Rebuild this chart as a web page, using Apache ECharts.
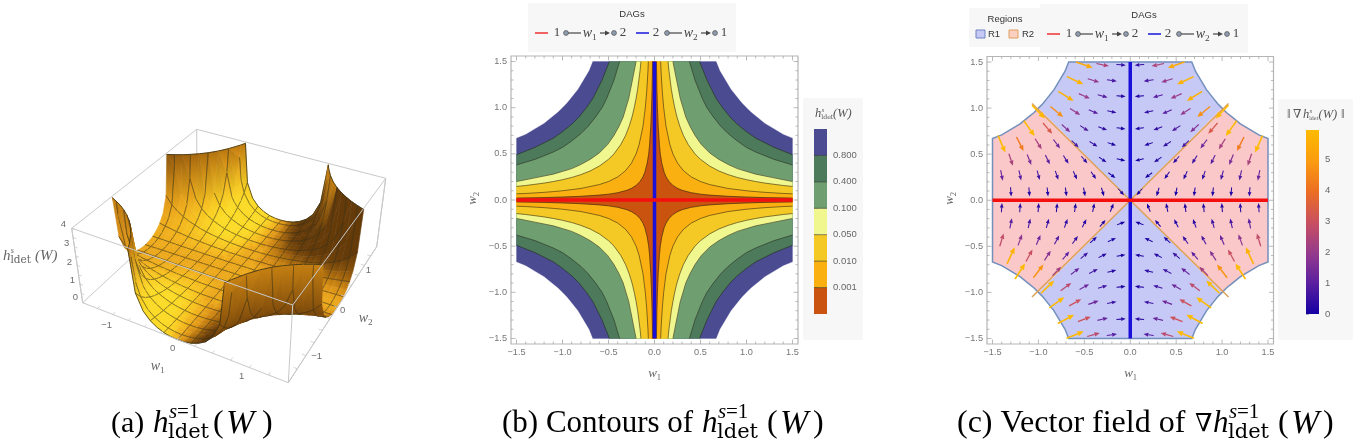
<!DOCTYPE html>
<html>
<head>
<meta charset="utf-8">
<style>
  html, body { margin: 0; background: #fff; }
  #chart { width: 1356px; height: 441px; }
</style>
<script src="https://cdn.jsdelivr.net/npm/echarts@6/dist/echarts.min.js"></script>
</head>
<body>
<div id="chart"></div>
<script>
/* ---------- panel (a): surface heights read per w1 row, one quadrant ---------- */
const surfaceW1 = [0, 0.1, 0.2, 0.3, 0.4, 0.5, 0.6, 0.66, 0.7, 0.8, 0.9, 1.0, 1.1, 1.2, 1.3, 1.4, 1.5];
const surfaceEdge = [1.5, 1.5, 1.5, 1.5, 1.5, 1.5, 1.5, 1.5, 1.414, 1.24, 1.1, 0.99, 0.9, 0.825, 0.76, 0.707, 0.66];
const surfaceH = [
  [0, 0, 0, 0, 0, 0, 0, 0, 0, 0, 0, 0, 0, 0, 0, 0],
  [0, 0, 0, 0, 0, 0, 0, 0, 0.01, 0.01, 0.01, 0.01, 0.01, 0.02, 0.02, 0.02],
  [0, 0, 0, 0, 0.01, 0.01, 0.01, 0.02, 0.03, 0.03, 0.04, 0.05, 0.06, 0.07, 0.08, 0.09],
  [0, 0, 0, 0.01, 0.01, 0.02, 0.03, 0.05, 0.06, 0.08, 0.09, 0.12, 0.14, 0.17, 0.19, 0.23],
  [0, 0, 0.01, 0.01, 0.03, 0.04, 0.06, 0.08, 0.11, 0.14, 0.17, 0.22, 0.26, 0.32, 0.38, 0.45],
  [0, 0, 0.01, 0.02, 0.04, 0.06, 0.09, 0.13, 0.17, 0.23, 0.29, 0.36, 0.45, 0.55, 0.67, 0.83],
  [0, 0, 0.01, 0.03, 0.06, 0.09, 0.14, 0.19, 0.26, 0.34, 0.45, 0.57, 0.73, 0.94, 1.22, 1.66],
  [0, 0, 0.02, 0.04, 0.07, 0.12, 0.17, 0.24, 0.33, 0.44, 0.57, 0.75, 0.99, 1.33, 1.92, 3.92],
  [0, 0, 0.02, 0.05, 0.08, 0.13, 0.19, 0.27, 0.38, 0.51, 0.67, 0.9, 1.22, 1.76, 3.23, 3.92],
  [0, 0.01, 0.03, 0.06, 0.11, 0.17, 0.26, 0.38, 0.53, 0.73, 1.02, 1.49, 2.55, 3.92],
  [0, 0.01, 0.03, 0.08, 0.14, 0.23, 0.34, 0.51, 0.73, 1.07, 1.66, 3.92],
  [0, 0.01, 0.04, 0.09, 0.17, 0.29, 0.45, 0.67, 1.02, 1.66, 3.92],
  [0, 0.01, 0.05, 0.12, 0.22, 0.36, 0.57, 0.9, 1.49, 3.92],
  [0, 0.01, 0.06, 0.14, 0.26, 0.45, 0.73, 1.22, 2.55, 3.92],
  [0, 0.02, 0.07, 0.17, 0.32, 0.55, 0.94, 1.76, 3.92],
  [0, 0.02, 0.08, 0.19, 0.38, 0.67, 1.22, 3.23, 3.92],
  [0, 0.02, 0.09, 0.23, 0.45, 0.83, 1.66, 3.92],
];
const shadeColors = ['#3f2305', '#7d4a0c', '#b9760f', '#e49a1b', '#f4b81f', '#fbd827', '#fdec30'];

/* ---------- panel (b): contour curves, first quadrant [w1, w2] ---------- */
const curveDomain = [[0.67, 1.5], [0.71, 1.4], [0.77, 1.3], [0.83, 1.2], [0.91, 1.1], [0.95, 1.05], [1, 1], [1.05, 0.95], [1.1, 0.91], [1.2, 0.83], [1.3, 0.77], [1.4, 0.71], [1.5, 0.67]];
const curve080 = [[0.49, 1.5], [0.53, 1.4], [0.57, 1.3], [0.62, 1.2], [0.67, 1.1], [0.74, 1], [0.82, 0.9], [0.9, 0.82], [1, 0.74], [1.1, 0.67], [1.2, 0.62], [1.3, 0.57], [1.4, 0.53], [1.5, 0.49]];
const curve040 = [[0.38, 1.5], [0.41, 1.4], [0.44, 1.3], [0.48, 1.2], [0.52, 1.1], [0.57, 1], [0.64, 0.9], [0.72, 0.8], [0.8, 0.72], [0.9, 0.64], [1, 0.57], [1.1, 0.52], [1.2, 0.48], [1.3, 0.44], [1.4, 0.41], [1.5, 0.38]];
const curve010 = [[0.2, 1.5], [0.22, 1.4], [0.24, 1.3], [0.26, 1.2], [0.28, 1.1], [0.31, 1], [0.34, 0.9], [0.385, 0.8], [0.44, 0.7], [0.51, 0.6], [0.6, 0.51], [0.7, 0.44], [0.8, 0.385], [0.9, 0.34], [1, 0.31], [1.1, 0.28], [1.2, 0.26], [1.3, 0.24], [1.4, 0.22], [1.5, 0.2]];
const curve005 = [[0.147, 1.5], [0.157, 1.4], [0.17, 1.3], [0.183, 1.2], [0.2, 1.1], [0.22, 1], [0.244, 0.9], [0.275, 0.8], [0.314, 0.7], [0.367, 0.6], [0.44, 0.5], [0.5, 0.44], [0.6, 0.367], [0.7, 0.314], [0.8, 0.275], [0.9, 0.244], [1, 0.22], [1.1, 0.2], [1.2, 0.183], [1.3, 0.17], [1.4, 0.157], [1.5, 0.147]];
const curve001 = [[0.067, 1.5], [0.071, 1.4], [0.077, 1.3], [0.083, 1.2], [0.091, 1.1], [0.1, 1], [0.125, 0.8], [0.167, 0.6], [0.2, 0.5], [0.25, 0.4], [0.316, 0.316], [0.4, 0.25], [0.5, 0.2], [0.6, 0.167], [0.8, 0.125], [1, 0.1], [1.1, 0.091], [1.2, 0.083], [1.3, 0.077], [1.4, 0.071], [1.5, 0.067]];
const curve0001 = [[0.021, 1.5], [0.026, 1.2], [0.032, 1], [0.04, 0.8], [0.053, 0.6], [0.063, 0.5], [0.079, 0.4], [0.105, 0.3], [0.126, 0.25], [0.158, 0.2], [0.2, 0.158], [0.25, 0.126], [0.3, 0.105], [0.4, 0.079], [0.5, 0.063], [0.6, 0.053], [0.8, 0.04], [1, 0.032], [1.2, 0.026], [1.5, 0.021]];
const bandCurves = [curveDomain, curve080, curve040, curve010, curve005, curve001, curve0001];
const bandColors = ['#4b4b92', '#4c7a5b', '#6f9e70', '#f1f78f', '#f4c925', '#fbb012', '#c9530f'];
const bandLabels = ['0.001', '0.010', '0.050', '0.100', '0.400', '0.800'];

/* ---------- panel (c): regions and arrows [w1, w2, ux, uy, magnitude] ---------- */
const diagonalEnd = [1.07, 1.05];
const arrowField = [
  [0.1, 0.09, 0.67, 0.74, 0], [0.3, 0.09, 0.29, 0.96, 0.02], [0.5, 0.09, 0.18, 0.98, 0.05], [0.7, 0.09, 0.13, 0.99, 0.09],
  [0.9, 0.09, 0.1, 0.99, 0.15], [1.1, 0.09, 0.08, 1, 0.22], [1.3, 0.09, 0.07, 1, 0.31],
  [0.2, 0.27, 0.8, 0.6, 0.04], [0.4, 0.27, 0.56, 0.83, 0.11], [0.6, 0.27, 0.41, 0.91, 0.22], [0.8, 0.27, 0.32, 0.95, 0.38],
  [1, 0.27, 0.26, 0.97, 0.6], [1.2, 0.27, 0.22, 0.98, 0.89], [1.4, 0.27, 0.19, 0.98, 1.26],
  [0.1, 0.44, 0.98, 0.22, 0.04], [0.3, 0.44, 0.83, 0.56, 0.14], [0.5, 0.44, 0.66, 0.75, 0.31], [0.7, 0.44, 0.53, 0.85, 0.56],
  [0.9, 0.44, 0.44, 0.9, 0.94], [1.1, 0.44, 0.37, 0.93, 1.5], [1.3, 0.44, 0.32, 0.95, 2.33],
  [0.2, 0.61, 0.95, 0.31, 0.16], [0.4, 0.61, 0.84, 0.55, 0.38], [0.6, 0.61, 0.71, 0.7, 0.72], [0.8, 0.61, 0.61, 0.8, 1.29],
  [1, 0.61, 0.52, 0.85, 2.27], [1.2, 0.61, 0.45, 0.89, 4.24], [1.4, 0.61, 0.4, 0.92, 5.9],
  [0.1, 0.78, 0.99, 0.13, 0.12], [0.3, 0.78, 0.93, 0.36, 0.41], [0.5, 0.78, 0.84, 0.54, 0.85], [0.7, 0.78, 0.74, 0.67, 1.63],
  [0.9, 0.78, 0.65, 0.76, 3.3], [1.1, 0.78, 0.58, 0.82, 5.9],
  [0.2, 0.96, 0.98, 0.2, 0.39], [0.4, 0.96, 0.92, 0.39, 0.94], [0.6, 0.96, 0.85, 0.53, 1.95], [0.8, 0.96, 0.77, 0.64, 4.67], [1, 0.96, 0.69, 0.72, 5.9],
  [0.1, 1.13, 1, 0.09, 0.26], [0.3, 1.13, 0.97, 0.26, 0.9], [0.5, 1.13, 0.91, 0.41, 2.05], [0.7, 1.13, 0.85, 0.53, 5.6],
  [0.2, 1.3, 0.99, 0.15, 0.73], [0.4, 1.3, 0.96, 0.29, 1.94], [0.6, 1.3, 0.91, 0.42, 5.7],
  [0.1, 1.47, 1, 0.07, 0.44], [0.3, 1.47, 0.98, 0.2, 2.46], [0.5, 1.47, 0.95, 0.32, 5.4],
  [0.2, -0.08, 0.37, 0.93, 0.01], [0.4, -0.08, 0.2, 0.98, 0.03], [0.6, -0.08, 0.13, 0.99, 0.06], [0.8, -0.08, 0.1, 1, 0.1],
  [1, -0.08, 0.08, 1, 0.16], [1.2, -0.08, 0.07, 1, 0.23], [1.4, -0.08, 0.06, 1, 0.32],
  [0.1, -0.25, 0.93, 0.37, 0.01], [0.3, -0.25, 0.64, 0.77, 0.06], [0.5, -0.25, 0.45, 0.89, 0.14], [0.7, -0.25, 0.34, 0.94, 0.27],
  [0.9, -0.25, 0.27, 0.96, 0.44], [1.1, -0.25, 0.22, 0.98, 0.67], [1.3, -0.25, 0.19, 0.98, 0.96],
  [0.2, -0.43, 0.91, 0.42, 0.08], [0.4, -0.43, 0.73, 0.68, 0.21], [0.6, -0.43, 0.58, 0.81, 0.41], [0.8, -0.43, 0.47, 0.88, 0.71],
  [1, -0.43, 0.39, 0.92, 1.15], [1.2, -0.43, 0.34, 0.94, 1.79], [1.4, -0.43, 0.29, 0.96, 2.77],
  [0.1, -0.6, 0.99, 0.16, 0.07], [0.3, -0.6, 0.89, 0.45, 0.25], [0.5, -0.6, 0.77, 0.64, 0.52], [0.7, -0.6, 0.65, 0.76, 0.94],
  [0.9, -0.6, 0.55, 0.83, 1.65], [1.1, -0.6, 0.48, 0.88, 2.93], [1.3, -0.6, 0.42, 0.91, 5.7],
  [0.2, -0.77, 0.97, 0.25, 0.25], [0.4, -0.77, 0.89, 0.46, 0.59], [0.6, -0.77, 0.79, 0.61, 1.15], [0.8, -0.77, 0.69, 0.72, 2.2],
  [1, -0.77, 0.61, 0.79, 4.77], [1.2, -0.77, 0.54, 0.84, 5.9],
  [0.1, -0.94, 1, 0.11, 0.18], [0.3, -0.94, 0.95, 0.3, 0.6], [0.5, -0.94, 0.88, 0.47, 1.29], [0.7, -0.94, 0.8, 0.6, 2.71], [0.9, -0.94, 0.72, 0.69, 5.9],
  [0.2, -1.11, 0.98, 0.18, 0.53], [0.4, -1.11, 0.94, 0.34, 1.3], [0.6, -1.11, 0.88, 0.48, 3.03], [0.8, -1.11, 0.81, 0.58, 5.9],
  [0.1, -1.29, 1, 0.08, 0.34], [0.3, -1.29, 0.97, 0.23, 1.21], [0.5, -1.29, 0.93, 0.36, 3.05], [0.7, -1.29, 0.88, 0.48, 5.9],
  [0.2, -1.46, 0.99, 0.14, 0.94], [0.4, -1.46, 0.96, 0.26, 2.68], [0.6, -1.46, 0.93, 0.38, 5.9],
];
const magnitudeColors = ['#1500a3', '#5a1fa0', '#963a8c', '#c9505f', '#ec6e22', '#fb9c10', '#fdbb00'];
const magnitudeMax = 5.94;

/* ---------- DAG lines and ticks ---------- */
const dag1 = [[-1.5, 0], [1.5, 0]];
const dag2 = [[0, -1.5], [0, 1.5]];
const majorTicks = [-1.5, -1, -0.5, 0, 0.5, 1, 1.5];
const minorTicks = [-1.4, -1.3, -1.2, -1.1, -0.9, -0.8, -0.7, -0.6, -0.4, -0.3, -0.2, -0.1, 0.1, 0.2, 0.3, 0.4, 0.6, 0.7, 0.8, 0.9, 1.1, 1.2, 1.3, 1.4];

/* ---------- box of the 3D panel, in page pixels ---------- */
const boxTop = [[71.7, 228.3], [292.7, 305], [385.7, 178.3], [196.7, 129.3]];
const boxBottom = [[82.7, 302.7], [288.3, 382.7], [376.7, 246.7], [197, 197]];
const boxBack = [[4, 7], [5, 6], [4, 0], [7, 3], [6, 2], [3, 2], [3, 0]];
const boxFront = [[0, 1], [1, 2], [4, 5], [5, 6], [0, 4], [1, 5], [2, 6]];
const surfaceTicks = [-1.25, -1, -0.75, -0.5, -0.25, 0, 0.25, 0.5, 0.75, 1, 1.25];
const heightTicks = [0, 0.5, 1, 1.5, 2, 2.5, 3, 3.5, 4];

function squareToQuad(q) {
  const [[x0, y0], [x1, y1], [x2, y2], [x3, y3]] = q;
  const dx1 = x1 - x2, dx2 = x3 - x2, sx = x0 - x1 + x2 - x3;
  const dy1 = y1 - y2, dy2 = y3 - y2, sy = y0 - y1 + y2 - y3;
  const den = dx1 * dy2 - dx2 * dy1;
  const g = (sx * dy2 - dx2 * sy) / den, h = (dx1 * sy - sx * dy1) / den;
  const a = x1 - x0 + g * x1, b = x3 - x0 + h * x3;
  const d = y1 - y0 + g * y1, e = y3 - y0 + h * y3;
  return (u, v) => {
    const w = g * u + h * v + 1;
    return [(a * u + b * v + x0) / w, (d * u + e * v + y0) / w];
  };
}
const mapTop = squareToQuad(boxTop);
const mapBottom = squareToQuad(boxBottom);

// (w1, w2, h) to the hidden pixel axes of panel (a)
function project(w1, w2, h) {
  const u = (w1 + 1.5) / 3, v = (w2 + 1.5) / 3, t = h / 4;
  const top = mapTop(u, v), bottom = mapBottom(u, v);
  return [bottom[0] + (top[0] - bottom[0]) * t, bottom[1] + (top[1] - bottom[1]) * t];
}

/* ---------- surface cells, back to front ---------- */
const surfaceCells = [];
function rowPoint(i, j) {
  const row = surfaceH[i];
  const k = Math.min(j, row.length - 1);
  return [surfaceW1[i], k === row.length - 1 ? surfaceEdge[i] : k / 10, row[k]];
}
[1, -1].forEach((s1) => {
  [1, -1].forEach((s2) => {
    for (let i = 0; i < surfaceH.length - 1; i++) {
      const nA = surfaceH[i].length, nB = surfaceH[i + 1].length;
      const last = Math.max(nA, nB) - 1;
      for (let j = 0; j < last; j++) {
        const pts = [rowPoint(i, j), rowPoint(i, j + 1), rowPoint(i + 1, j + 1), rowPoint(i + 1, j)]
          .map((p) => [p[0] * s1, p[1] * s2, p[2]]);
        const depth = pts.reduce((sum, p) => sum + p[0] - p[1], 0);
        surfaceCells.push({
          pts,
          depth,
          meshA: Math.round(surfaceW1[i] * 100) % 20 === 0,
          meshB: Math.round(surfaceW1[i + 1] * 100) % 20 === 0,
          meshLow: j % 2 === 0 && j < nA - 1 && j < nB - 1,
          meshHigh: (j + 1) % 2 === 0 && j + 1 < nA - 1 && j + 1 < nB - 1,
          edge: j === last - 1,
        });
      }
    }
  });
});
surfaceCells.sort((a, b) => a.depth - b.depth);

// shading only: slope direction from the vertex position, steepness from its height
function vertexColor(p) {
  const sign = p[0] * p[1] >= 0 ? 1 : -1;
  const r = Math.hypot(p[0], p[1]) || 1;
  const slope = 1.2 * Math.sqrt(p[2]);
  let n = [-sign * p[1] / r * slope, -sign * p[0] / r * slope, 1];
  const len = Math.hypot(n[0], n[1], n[2]);
  n = n.map((v) => v / len);
  const toViewer = n[0] * 0.45 - n[1] * 0.45 + n[2] * 0.77;
  if (toViewer < 0.25) return echarts.color.lerp(0.1 + 0.28 * p[2] / 4, shadeColors);
  const light = n[0] * 0.85 - n[1] * 0.05 + n[2] * 0.52;
  const t = light * 1.12 * (1 - 0.17 * p[2]);
  return echarts.color.lerp(Math.max(0.1, Math.min(0.86, t)), shadeColors);
}

function cellFill(cell, pix) {
  let low = 0, high = 0;
  cell.pts.forEach((p, k) => {
    if (p[2] < cell.pts[low][2]) low = k;
    if (p[2] > cell.pts[high][2]) high = k;
  });
  const from = vertexColor(cell.pts[low]), to = vertexColor(cell.pts[high]);
  if (low === high || pix[low][1] === pix[high][1]) return from;
  return new echarts.graphic.LinearGradient(pix[low][0], pix[low][1], pix[high][0], pix[high][1], [
    { offset: 0, color: from },
    { offset: 1, color: to },
  ], true);
}

/* ---------- render helpers ---------- */
function renderCell(params, api) {
  const cell = surfaceCells[params.dataIndex];
  const pix = cell.pts.map((p) => api.coord(project(p[0], p[1], p[2])));
  const fill = cellFill(cell, pix);
  const children = [{
    type: 'polygon',
    shape: { points: pix },
    style: { fill, stroke: fill, lineWidth: 0.6 },
  }];
  const seg = (a, b, alpha) => children.push({
    type: 'line',
    shape: { x1: pix[a][0], y1: pix[a][1], x2: pix[b][0], y2: pix[b][1] },
    style: { stroke: 'rgba(50,45,20,' + alpha + ')', lineWidth: 0.9 },
  });
  if (cell.meshA) seg(0, 1, 0.55);
  if (cell.meshB) seg(3, 2, 0.55);
  if (cell.meshLow) seg(0, 3, 0.55);
  if (cell.meshHigh) seg(1, 2, 0.55);
  if (cell.edge) seg(1, 2, 0.85);
  return { type: 'group', children };
}

function renderBoxEdges(edges, ticksToo) {
  return (params, api) => {
    const all = boxTop.concat(boxBottom).map((p) => api.coord(p));
    const children = edges.map(([a, b]) => ({
      type: 'line',
      shape: { x1: all[a][0], y1: all[a][1], x2: all[b][0], y2: all[b][1] },
      style: { stroke: '#c9c9c9', lineWidth: 1 },
    }));
    if (ticksToo) {
      const tick = (p, q) => {
        const s = api.coord(p), e = api.coord(q);
        children.push({ type: 'line', shape: { x1: s[0], y1: s[1], x2: e[0], y2: e[1] }, style: { stroke: '#c9c9c9', lineWidth: 0.8 } });
      };
      surfaceTicks.forEach((w) => {
        tick(project(w, -1.5, 0), project(w, -1.45, 0));
        tick(project(1.5, w, 0), project(1.45, w, 0));
      });
      heightTicks.forEach((h) => tick(project(-1.5, -1.5, h), project(-1.45, -1.5, h)));
    }
    return { type: 'group', children };
  };
}

function renderBand(params, api) {
  const band = api.value(0), s1 = api.value(1), s2 = api.value(2);
  const curve = bandCurves[band];
  const edge = curve.map((p) => api.coord([p[0] * s1, p[1] * s2]));
  const poly = [api.coord([0, 0]), api.coord([0, 1.5 * s2])].concat(edge, [api.coord([1.5 * s1, 0])]);
  const children = [{ type: 'polygon', shape: { points: poly }, style: { fill: bandColors[band], stroke: bandColors[band], lineWidth: 0.3 } }];
  if (band > 0) {
    children.push({ type: 'polyline', shape: { points: edge }, style: { fill: 'none', stroke: 'rgba(30,30,20,0.6)', lineWidth: 0.9 } });
  }
  return { type: 'group', children };
}

function renderRegion(params, api) {
  const s1 = api.value(0), s2 = api.value(1);
  const c = (p) => api.coord([p[0] * s1, p[1] * s2]);
  const upper = curveDomain.filter((p) => p[1] >= 1);
  const lower = curveDomain.filter((p) => p[1] <= 1);
  const r1 = [[0, 0]].concat(upper.slice().reverse(), [[0, 1.5]]).map(c);
  const r2 = [[0, 0], [1.5, 0]].concat(lower.slice().reverse(), [[1, 1]]).map(c);
  const outline = [[0, 1.5]].concat(curveDomain, [[1.5, 0]]).map(c);
  return {
    type: 'group',
    children: [
      { type: 'polygon', shape: { points: r1 }, style: { fill: '#c6c9f6', stroke: '#c6c9f6', lineWidth: 0.3 } },
      { type: 'polygon', shape: { points: r2 }, style: { fill: '#fbc8ca', stroke: '#fbc8ca', lineWidth: 0.3 } },
      { type: 'polyline', shape: { points: outline }, style: { fill: 'none', stroke: '#7390bd', lineWidth: 1.5 } },
      { type: 'line', shape: { x1: c([0, 0])[0], y1: c([0, 0])[1], x2: c(diagonalEnd)[0], y2: c(diagonalEnd)[1] }, style: { stroke: '#dca257', lineWidth: 1.5 } },
    ],
  };
}

function renderArrow(params, api) {
  const w1 = api.value(0), w2 = api.value(1), ux = api.value(2), uy = api.value(3), m = api.value(4), s = api.value(5);
  const len = 0.095 + 0.018 * m;
  const sy = w2 < 0 ? -1 : 1;
  const vx = -s * ux * len, vy = -sy * uy * len;
  const x = w1 * s;
  const tail = api.coord([x - vx / 2, w2 - vy / 2]);
  const head = api.coord([x + vx / 2, w2 + vy / 2]);
  const color = echarts.color.lerp(Math.min(1, m / magnitudeMax), magnitudeColors);
  const dx = head[0] - tail[0], dy = head[1] - tail[1], d = Math.hypot(dx, dy);
  const nx = dx / d, ny = dy / d;
  const hl = 4.5 + 0.3 * m, hw = 1.8 + 0.15 * m;
  const base = [head[0] - nx * hl, head[1] - ny * hl];
  return {
    type: 'group',
    children: [
      { type: 'line', shape: { x1: tail[0], y1: tail[1], x2: base[0], y2: base[1] }, style: { stroke: color, lineWidth: 1 + 0.1 * m } },
      { type: 'polygon', shape: { points: [head, [base[0] - ny * hw, base[1] + nx * hw], [base[0] + ny * hw, base[1] - nx * hw]] }, style: { fill: color } },
    ],
  };
}

function renderFrameTicks(params, api) {
  const v = api.value(0), major = api.value(1), vertical = api.value(2);
  const l = major ? 4.5 : 2.5;
  const a = api.coord(vertical ? [-1.56, v] : [v, -1.56]);
  const b = api.coord(vertical ? [1.56, v] : [v, 1.56]);
  const style = { stroke: '#a8a8a8', lineWidth: 0.8 };
  return {
    type: 'group',
    children: vertical
      ? [{ type: 'line', shape: { x1: a[0], y1: a[1], x2: a[0] + l, y2: a[1] }, style }, { type: 'line', shape: { x1: b[0], y1: b[1], x2: b[0] - l, y2: b[1] }, style }]
      : [{ type: 'line', shape: { x1: a[0], y1: a[1], x2: a[0], y2: a[1] - l }, style }, { type: 'line', shape: { x1: b[0], y1: b[1], x2: b[0], y2: b[1] + l }, style }],
  };
}

function renderLegendBand(params, api) {
  const i = params.dataIndex;
  const a = api.coord([0, i]), b = api.coord([1, i + 1]);
  const children = [{ type: 'rect', shape: { x: a[0], y: b[1], width: b[0] - a[0], height: a[1] - b[1] }, style: { fill: bandColors[6 - i] } }];
  if (i > 0) children.push({ type: 'line', shape: { x1: a[0], y1: a[1], x2: b[0], y2: a[1] }, style: { stroke: 'rgba(30,30,20,0.6)', lineWidth: 0.9 } });
  return { type: 'group', children };
}

function renderLegendRamp(params, api) {
  const a = api.coord([0, 0]), b = api.coord([1, magnitudeMax]);
  const stops = magnitudeColors.map((color, i) => ({ offset: i / (magnitudeColors.length - 1), color }));
  return {
    type: 'rect',
    shape: { x: a[0], y: b[1], width: b[0] - a[0], height: a[1] - b[1] },
    style: { fill: new echarts.graphic.LinearGradient(0, 1, 0, 0, stops) },
  };
}

/* ---------- text and legends ---------- */
const SANS = '"Liberation Sans", Arial, sans-serif';
const SERIF = '"Liberation Serif", "Times New Roman", serif';
const CM = '"DejaVu Serif", serif';

function txt(text, x, y, size, o = {}) {
  return {
    type: 'text', x, y, z: 20, rotation: o.rotation || 0,
    style: {
      text, fontSize: size, fontFamily: o.font || SANS, fontStyle: o.italic ? 'italic' : 'normal',
      fill: o.fill || '#6e6e6e', align: o.align || 'center', verticalAlign: 'middle',
    },
  };
}

function wLabel(x, y, idx, size, rotation, fill) {
  return {
    type: 'group', x, y, rotation: rotation || 0, z: 20,
    children: [
      txt('w', -1.5, 0, size, { font: SERIF, italic: true, fill }),
      txt(idx, size * 0.38, size * 0.3, size * 0.66, { font: SERIF, fill }),
    ],
  };
}

// h^s_ldet(W), small form used in legends and the axis title
function hLabel(x, y, size, gap, ldetSize, fill) {
  return [
    txt('h', x, y, size, { font: SERIF, italic: true, fill, align: 'left' }),
    txt('s', x + size * 0.52, y - size * 0.34, size * 0.55, { font: SERIF, italic: true, fill, align: 'left' }),
    txt('ldet', x + size * 0.5, y + size * 0.27, ldetSize, { font: CM, fill, align: 'left' }),
    txt('(W)', x + gap, y, size, { font: SERIF, italic: true, fill, align: 'left' }),
  ];
}

function caption(label, x, size, hX, openX, wX, closeX) {
  return [
    txt(label, x, 424, size, { font: SERIF, fill: '#000', align: 'left' }),
    txt('h', hX, 424, 31, { font: SERIF, italic: true, fill: '#000', align: 'left' }),
    txt('s', hX + 16, 412, 21, { font: SERIF, italic: true, fill: '#000', align: 'left' }),
    txt('=1', hX + 24, 412, 21, { font: SERIF, fill: '#000', align: 'left' }),
    txt('ldet', hX + 15, 433, 21, { font: CM, fill: '#000', align: 'left' }),
    txt('(', openX, 424, 32, { font: SERIF, fill: '#000', align: 'left' }),
    txt('W', wX, 424, 34, { font: SERIF, italic: true, fill: '#000', align: 'left' }),
    txt(')', closeX, 424, 32, { font: SERIF, fill: '#000', align: 'left' }),
  ];
}

function dagLegend(dx, dy) {
  const el = [];
  const y = 33 + dy;
  const node = (x) => ({ type: 'circle', z: 20, shape: { cx: x + dx, cy: y, r: 2.4 }, style: { fill: '#8f9db3', stroke: '#555', lineWidth: 0.8 } });
  const rule = (x1, x2, stroke, lineWidth) => ({ type: 'line', z: 20, shape: { x1: x1 + dx, y1: y, x2: x2 + dx, y2: y }, style: { stroke, lineWidth } });
  const head = (x) => ({ type: 'polygon', z: 20, shape: { points: [[x + dx + 5, y], [x + dx, y - 2.5], [x + dx, y + 2.5]] }, style: { fill: '#444' } });
  el.push({ type: 'rect', z: -1, shape: { x: 528 + dx, y: 3 + dy, width: 208, height: 49, r: 2 }, style: { fill: '#f7f7f7' } });
  el.push(txt('DAGs', 632 + dx, 14 + dy, 9.5, { fill: '#333' }));
  el.push(rule(535, 548, '#ef3b3b', 1.6), txt('1', 557 + dx, y, 13, { font: SERIF, fill: '#444' }));
  el.push(rule(568, 581, '#444', 1.2), node(566), wLabel(589 + dx, y, '1', 14, 0, '#444'));
  el.push(rule(600, 606, '#444', 1.2), head(605), node(614), txt('2', 623 + dx, y, 13, { font: SERIF, fill: '#444' }));
  el.push(rule(636, 649, '#2222dd', 1.6), txt('2', 656 + dx, y, 13, { font: SERIF, fill: '#444' }));
  el.push(rule(669, 682, '#444', 1.2), node(667), wLabel(690 + dx, y, '2', 14, 0, '#444'));
  el.push(rule(701, 707, '#444', 1.2), head(706), node(715), txt('1', 724 + dx, y, 13, { font: SERIF, fill: '#444' }));
  return el;
}

const graphicElements = [
  // legend backgrounds
  { type: 'rect', z: -1, shape: { x: 803, y: 98, width: 60, height: 242, r: 2 }, style: { fill: '#f7f7f7' } },
  { type: 'rect', z: -1, shape: { x: 1278, y: 99, width: 75, height: 241, r: 2 }, style: { fill: '#f7f7f7' } },
  { type: 'rect', z: -1, shape: { x: 969, y: 8, width: 71, height: 39, r: 2 }, style: { fill: '#f7f7f7' } },
  ...dagLegend(0, 0),
  ...dagLegend(512, 1),
  // regions legend
  txt('Regions', 1005, 19, 9.5, { fill: '#333' }),
  { type: 'rect', z: 20, shape: { x: 976, y: 30, width: 9, height: 8 }, style: { fill: '#c6c9f6', stroke: '#6d84c0', lineWidth: 1 } },
  txt('R1', 988, 34.5, 9.5, { fill: '#333', align: 'left' }),
  { type: 'rect', z: 20, shape: { x: 1009, y: 30, width: 9, height: 8 }, style: { fill: '#fbd0c0', stroke: '#e0a060', lineWidth: 1 } },
  txt('R2', 1022, 34.5, 9.5, { fill: '#333', align: 'left' }),
  // legend titles
  ...hLabel(815, 114, 12.5, 18, 6.2, '#555'),
  txt('\u2016', 1287, 115, 12.5, { font: SERIF, fill: '#555', align: 'left' }),
  txt('\u2207', 1293, 115, 12, { font: CM, fill: '#555', align: 'left' }),
  ...hLabel(1303, 115, 12.5, 15.5, 4.8, '#555'),
  txt('\u2016', 1341, 115, 12.5, { font: SERIF, fill: '#555', align: 'left' }),
  // panel (a) labels
  ...[['4', 63.3, 224], ['3', 66.7, 243], ['2', 69.3, 262], ['1', 72.3, 280], ['0', 75.3, 297.3],
    ['\u22121', 106.7, 325], ['0', 172.7, 348.3], ['1', 241.7, 376],
    ['\u22121', 316.7, 356.7], ['0', 342.7, 310.7], ['1', 368.3, 270]].map((t) => txt(t[0], t[1], t[2], 9.5)),
  ...hLabel(3, 256, 15, 32, 10.5, '#666'),
  wLabel(157, 366, '1', 14, 0, '#666'),
  wLabel(365, 318, '2', 14, 0, '#666'),
  // panel (b) and (c) axis names
  wLabel(654, 374, '1', 13, 0, '#666'),
  wLabel(1130, 374, '1', 13, 0, '#666'),
  wLabel(473, 199, '2', 13, Math.PI / 2, '#666'),
  wLabel(950, 199, '2', 13, Math.PI / 2, '#666'),
  // captions
  ...caption('(a) ', 111, 30, 153, 213, 226, 262),
  ...caption('(b) Contours of ', 502, 31, 702, 767, 780, 813),
  ...caption('(c) Vector field of ', 957, 32, 1213, 1278, 1291, 1323),
  txt('\u2207', 1195, 424, 25, { font: CM, fill: '#000', align: 'left' }),
];

/* ---------- data for the custom series ---------- */
const bandData = [];
bandCurves.forEach((_, band) => {
  [[1, 1], [-1, 1], [-1, -1], [1, -1]].forEach(([a, b]) => bandData.push([band, a, b]));
});
const regionData = [[1, 1], [-1, 1], [-1, -1], [1, -1]];
const arrowData = [];
arrowField.forEach((a) => {
  arrowData.push([...a, 1]);
  arrowData.push([...a, -1]);
});
const tickData = [];
[0, 1].forEach((vertical) => {
  majorTicks.forEach((v) => tickData.push([v, 1, vertical]));
  minorTicks.forEach((v) => tickData.push([v, 0, vertical]));
});

/* ---------- axes ---------- */
function plotAxis(gridIndex, position) {
  return {
    type: 'value',
    gridIndex,
    position,
    min: -1.56,
    max: 1.56,
    axisLine: { show: false },
    axisTick: { show: false },
    splitLine: { show: false },
    axisLabel: {
      customValues: majorTicks,
      formatter: (v) => v.toFixed(1).replace('-', '\u2212'),
      color: '#777',
      fontSize: 9.2,
      fontFamily: SANS,
      margin: 4,
    },
  };
}
const hiddenAxis = (gridIndex, min, max, inverse) => ({
  type: 'value', gridIndex, min, max, inverse: !!inverse, show: false,
});

const chart = echarts.init(document.getElementById('chart'), null, { renderer: 'canvas' });
chart.setOption({
  animation: false,
  backgroundColor: '#fff',
  grid: [
    { left: 0, top: 100, width: 420, height: 341 },
    { left: 511, top: 56, width: 287, height: 288, show: true, borderColor: '#b5b5b5', borderWidth: 1.2, backgroundColor: '#fff' },
    { left: 987, top: 56.5, width: 286.5, height: 287.5, show: true, borderColor: '#b5b5b5', borderWidth: 1.2, backgroundColor: '#fff' },
    { left: 814, top: 129, width: 13, height: 185 },
    { left: 1306, top: 130, width: 13, height: 184 },
  ],
  xAxis: [
    hiddenAxis(0, 0, 420),
    plotAxis(1, 'bottom'),
    plotAxis(2, 'bottom'),
    hiddenAxis(3, 0, 1),
    hiddenAxis(4, 0, 1),
  ],
  yAxis: [
    hiddenAxis(0, 100, 441, true),
    plotAxis(1, 'left'),
    plotAxis(2, 'left'),
    {
      type: 'value', gridIndex: 3, position: 'right', min: 0, max: 7,
      splitLine: { show: false }, axisLine: { show: false },
      axisTick: { customValues: [1, 2, 3, 4, 5, 6], length: 4, lineStyle: { color: '#999', width: 0.8 } },
      axisLabel: { customValues: [1, 2, 3, 4, 5, 6], formatter: (v) => bandLabels[v - 1], color: '#666', fontSize: 9.5, fontFamily: SANS, margin: 6 },
    },
    {
      type: 'value', gridIndex: 4, position: 'right', min: 0, max: magnitudeMax,
      splitLine: { show: false }, axisLine: { show: false },
      axisTick: { customValues: [0, 1, 2, 3, 4, 5], length: 3, lineStyle: { color: '#999', width: 0.8 } },
      axisLabel: { customValues: [0, 1, 2, 3, 4, 5], color: '#666', fontSize: 9.5, fontFamily: SANS, margin: 6 },
    },
  ],
  graphic: { elements: graphicElements },
  series: [
    // panel (a)
    { type: 'custom', xAxisIndex: 0, yAxisIndex: 0, silent: true, z: 2, data: [[0, 0]], renderItem: renderBoxEdges(boxBack, false) },
    { type: 'custom', xAxisIndex: 0, yAxisIndex: 0, silent: true, z: 3, data: surfaceCells.map((c) => [c.depth]), renderItem: renderCell },
    { type: 'custom', xAxisIndex: 0, yAxisIndex: 0, silent: true, z: 4, data: [[0, 0]], renderItem: renderBoxEdges(boxFront, true) },
    // panel (b)
    { type: 'custom', xAxisIndex: 1, yAxisIndex: 1, silent: true, z: 2, data: bandData, renderItem: renderBand },
    { type: 'line', xAxisIndex: 1, yAxisIndex: 1, silent: true, z: 3, data: dag2, symbol: 'none', lineStyle: { color: '#1a10d8', width: 3.5 } },
    { type: 'line', xAxisIndex: 1, yAxisIndex: 1, silent: true, z: 3, data: dag1, symbol: 'none', lineStyle: { color: '#f40f0f', width: 3.5 } },
    { type: 'custom', xAxisIndex: 1, yAxisIndex: 1, silent: true, z: 4, data: tickData, renderItem: renderFrameTicks },
    // panel (c)
    { type: 'custom', xAxisIndex: 2, yAxisIndex: 2, silent: true, z: 2, data: regionData, renderItem: renderRegion },
    { type: 'custom', xAxisIndex: 2, yAxisIndex: 2, silent: true, z: 3, data: arrowData, renderItem: renderArrow },
    { type: 'line', xAxisIndex: 2, yAxisIndex: 2, silent: true, z: 4, data: dag2, symbol: 'none', lineStyle: { color: '#1a10d8', width: 3.5 } },
    { type: 'line', xAxisIndex: 2, yAxisIndex: 2, silent: true, z: 4, data: dag1, symbol: 'none', lineStyle: { color: '#f40f0f', width: 3.5 } },
    { type: 'custom', xAxisIndex: 2, yAxisIndex: 2, silent: true, z: 4, data: tickData, renderItem: renderFrameTicks },
    // colour bars
    { type: 'custom', xAxisIndex: 3, yAxisIndex: 3, silent: true, z: 2, data: [[0], [1], [2], [3], [4], [5], [6]], renderItem: renderLegendBand },
    { type: 'custom', xAxisIndex: 4, yAxisIndex: 4, silent: true, z: 2, data: [[0]], renderItem: renderLegendRamp },
  ],
});
</script>
</body>
</html>
